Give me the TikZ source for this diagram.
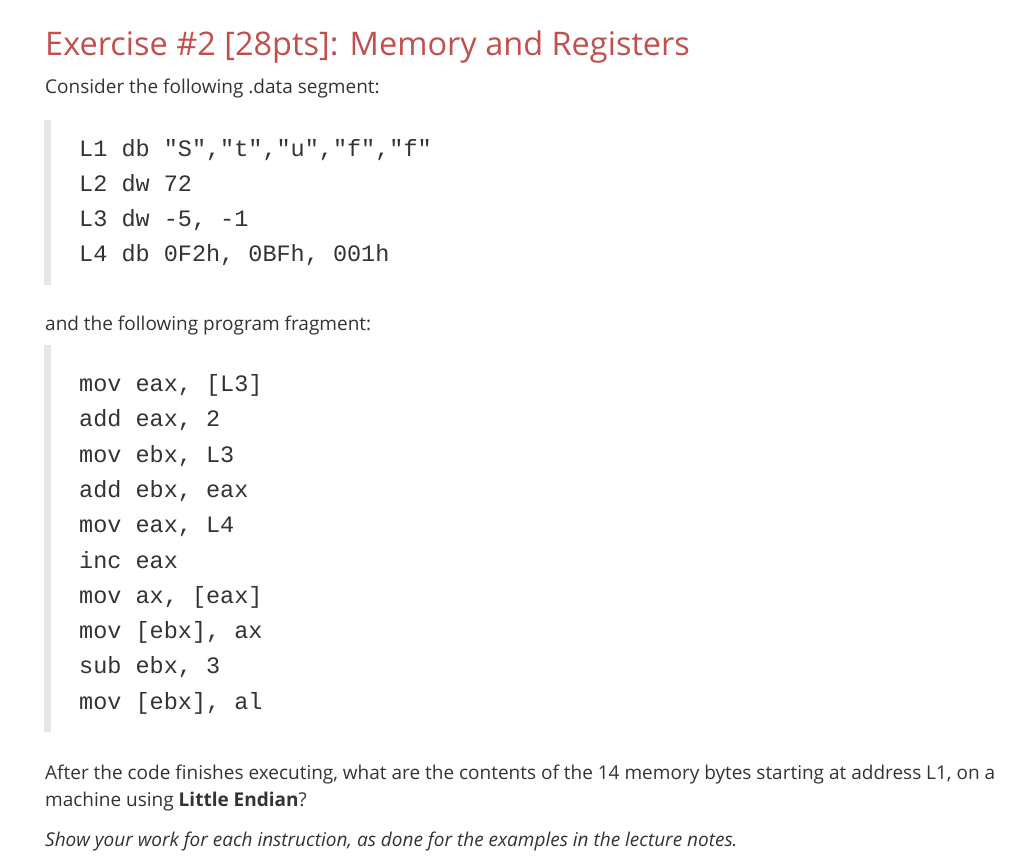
\documentclass[tikz,border=0pt]{standalone}
\usepackage{fontspec}
\setmainfont{Open Sans}
\newfontfamily\codefont{Liberation Mono}
\definecolor{ttl}{HTML}{C0504D}
\definecolor{bar}{HTML}{E6E6E6}
\definecolor{txt}{HTML}{333333}
\begin{document}
\begin{tikzpicture}[x=1pt,y=-1pt,
  body/.style={anchor=base west,inner sep=0pt,text=txt,font=\fontsize{19}{22}\selectfont},
  code/.style={anchor=base west,inner sep=0pt,text=txt,font=\codefont\fontsize{23.5}{26}\selectfont}]
\useasboundingbox (0,0) rectangle (1024,861);
\fill[bar] (44,120) rectangle (51,285);
\fill[bar] (44,345) rectangle (51,732);
\node[anchor=base west,inner sep=0pt,text=ttl,font=\fontsize{32.5}{36}\selectfont] (t) at (45,56) {Exercise \#2 [28pts]: Memory and Registers};
\node[body] (c1) at (45,94) {Consider the following .data segment:};
\node[code] (d1) at (79,157) {L1 db "S","t","u","f","f"};
\node[code] (d2) at (79,191) {L2 dw 72};
\node[code] (d3) at (79,226) {L3 dw -5, -1};
\node[code] (d4) at (79,261) {L4 db 0F2h, 0BFh, 001h};
\node[body] (c2) at (45,330) {and the following program fragment:};
\node[code] (p1) at (79,391) {mov eax, [L3]};
\node[code] (p2) at (79,426) {add eax, 2};
\node[code] (p3) at (79,462) {mov ebx, L3};
\node[code] (p4) at (79,497) {add ebx, eax};
\node[code] (p5) at (79,532) {mov eax, L4};
\node[code] (p6) at (79,568) {inc eax};
\node[code] (p7) at (79,603) {mov ax, [eax]};
\node[code] (p8) at (79,638) {mov [ebx], ax};
\node[code] (p9) at (79,673) {sub ebx, 3};
\node[code] (p10) at (79,709) {mov [ebx], al};
\node[body] (q1) at (45,779) {After the code finishes executing, what are the contents of the 14 memory bytes starting at address L1, on a};
\node[body] (q2) at (45,806) {machine using \textbf{Little Endian}?};
\node[body,font=\fontsize{19}{22}\selectfont\itshape] (q3) at (45,846) {Show your work for each instruction, as done for the examples in the lecture notes.};
\end{tikzpicture}
\end{document}
